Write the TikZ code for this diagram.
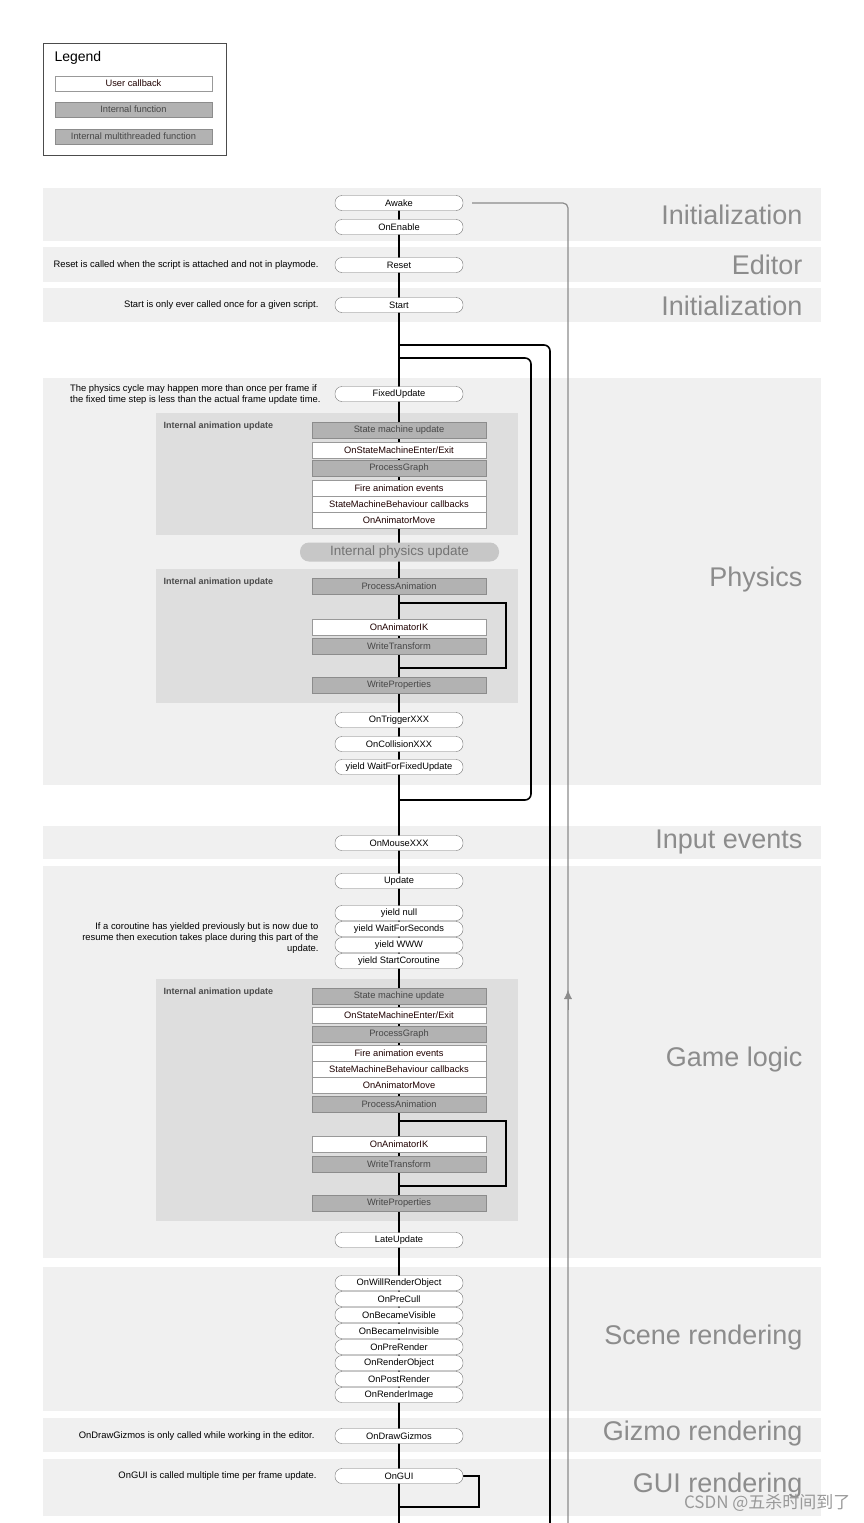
\documentclass[tikz,border=0pt]{standalone}
\usepackage{fontspec}
\usetikzlibrary{arrows.meta}
\setmainfont{Liberation Sans}
\newfontfamily\cjk{Noto Sans CJK SC}
\begin{document}
\begin{tikzpicture}[x=1pt,y=-1pt,
  band/.style={fill=black!6,draw=none},
  anim/.style={fill=black!13,draw=none},
  cb/.style={draw=black!55,fill=white,rounded corners=7pt,minimum width=128pt,minimum height=15pt,inner sep=0pt,font=\fontsize{9.3}{10}\selectfont},
  uc/.style={draw=black!40,fill=white,minimum width=174pt,minimum height=16pt,inner sep=0pt,font=\fontsize{9.3}{10}\selectfont,text=black!80!red!60!black},
  inf/.style={draw=black!45,fill=black!30,minimum width=174pt,minimum height=16pt,inner sep=0pt,font=\fontsize{9.3}{10}\selectfont,text=black!72},
  sec/.style={anchor=east,text=black!45,font=\fontsize{27}{29}\selectfont},
  note/.style={font=\fontsize{9.4}{11}\selectfont},
  ann/.style={font=\bfseries\fontsize{9}{10}\selectfont,text=black!70,anchor=north west},
  flow/.style={draw=black,line width=1.3pt},
  loop/.style={draw=black,line width=1.6pt,rounded corners=6pt}]
\useasboundingbox (0,0) rectangle (864,1523);
% legend
\draw[black!70] (43,43) rectangle (226,155);
\node[anchor=west,font=\fontsize{14}{15}\selectfont] (leg) at (51,58) {Legend};
\node[uc,minimum width=157pt,minimum height=15pt] (l1) at (133.5,83.5) {User callback};
\node[inf,minimum width=157pt,minimum height=15pt] (l2) at (133.5,109.5) {Internal function};
\node[inf,minimum width=157pt,minimum height=15pt] (l3) at (133.5,136.5) {Internal multithreaded function};
% bands
\fill[band] (43,188) rectangle (821,241);
\fill[band] (43,247) rectangle (821,282);
\fill[band] (43,288) rectangle (821,322);
\fill[band] (43,378) rectangle (821,785);
\fill[band] (43,826) rectangle (821,859);
\fill[band] (43,866) rectangle (821,1258);
\fill[band] (43,1267) rectangle (821,1411);
\fill[band] (43,1418) rectangle (821,1452);
\fill[band] (43,1459) rectangle (821,1516);
\fill[anim] (156,413) rectangle (518,535);
\fill[anim] (156,569) rectangle (518,703);
\fill[anim] (156,979) rectangle (518,1221);
\node[sec] (s1) at (806,215) {Initialization};
\node[sec] (s2) at (806,265) {Editor};
\node[sec] (s3) at (806,306) {Initialization};
\node[sec] (s4) at (806,580) {Physics};
\node[sec] (s5) at (806,842) {Input events};
\node[sec] (s6) at (806,1060) {Game logic};
\node[sec] (s7) at (806,1338) {Scene rendering};
\node[sec] (s8) at (806,1434) {Gizmo rendering};
\node[sec] (s9) at (806,1485) {GUI rendering};
\node[ann] (a1) at (160,418) {Internal animation update};
\node[ann] (a2) at (160,574) {Internal animation update};
\node[ann] (a3) at (160,984) {Internal animation update};
% notes
\node[note,anchor=east] (n1) at (322,265) {Reset is called when the script is attached and not in playmode.};
\node[note,anchor=east] (n2) at (322,305) {Start is only ever called once for a given script.};
\node[note,anchor=east,align=left] (n3) at (324,395) {The physics cycle may happen more than once per frame if\\the fixed time step is less than the actual frame update time.};
\node[note,anchor=east,align=right] (n4) at (322,938) {If a coroutine has yielded previously but is now due to\\resume then execution takes place during this part of the\\update.};
\node[note,anchor=east] (n5) at (318,1436) {OnDrawGizmos is only called while working in the editor.};
\node[note,anchor=east] (n6) at (320,1476) {OnGUI is called multiple time per frame update.};
% loops & lines (behind nodes)
\draw[black!45,line width=1.2pt,rounded corners=5pt] (472,203) -- (568,203) -- (568,1523);
\draw[black!45,-{Latex[length=9pt,width=8pt]}] (568,1010) -- (568,990);
\draw[loop] (399,345) -- (550,345) -- (550,1523);
\draw[loop] (399,800) -- (531,800) -- (531,358) -- (399,358);
\draw[flow] (399,203) -- (399,1523);
\draw[line width=1.6pt] (399,603) -- (506,603) -- (506,668) -- (399,668);
\draw[line width=1.6pt] (399,1121) -- (506,1121) -- (506,1186) -- (399,1186);
\draw[line width=1.6pt] (463,1476) -- (479,1476) -- (479,1507) -- (399,1507);
% callbacks
\node[cb] (awake) at (399,203) {Awake};
\node[cb] (onenable) at (399,227) {OnEnable};
\node[cb] (reset) at (399,265) {Reset};
\node[cb] (start) at (399,305) {Start};
\node[cb] (fixed) at (399,394) {FixedUpdate};
\node[inf] (p1) at (399,430) {State machine update};
\node[uc] (p2) at (399,450) {OnStateMachineEnter/Exit};
\node[inf] (p3) at (399,468) {ProcessGraph};
\node[uc] (p4) at (399,488) {Fire animation events};
\node[uc] (p5) at (399,504) {StateMachineBehaviour callbacks};
\node[uc] (p6) at (399,520) {OnAnimatorMove};
\node[fill=black!22,rounded corners=9pt,minimum width=199pt,minimum height=19pt,inner sep=0pt,text=black!55,font=\fontsize{13.5}{14}\selectfont] (phys) at (399.5,552) {Internal physics update};
\node[inf] (q1) at (399,586) {ProcessAnimation};
\node[uc] (q2) at (399,627) {OnAnimatorIK};
\node[inf] (q3) at (399,646) {WriteTransform};
\node[inf] (q4) at (399,685) {WriteProperties};
\node[cb] (trig) at (399,720) {OnTriggerXXX};
\node[cb] (coll) at (399,744) {OnCollisionXXX};
\node[cb] (wffu) at (399,767) {yield WaitForFixedUpdate};
\node[cb] (mouse) at (399,843) {OnMouseXXX};
\node[cb] (update) at (399,881) {Update};
\node[cb] (y1) at (399,913) {yield null};
\node[cb] (y2) at (399,929) {yield WaitForSeconds};
\node[cb] (y3) at (399,945) {yield WWW};
\node[cb] (y4) at (399,961) {yield StartCoroutine};
\node[inf] (g1) at (399,996) {State machine update};
\node[uc] (g2) at (399,1015) {OnStateMachineEnter/Exit};
\node[inf] (g3) at (399,1034) {ProcessGraph};
\node[uc] (g4) at (399,1053) {Fire animation events};
\node[uc] (g5) at (399,1069) {StateMachineBehaviour callbacks};
\node[uc] (g6) at (399,1085) {OnAnimatorMove};
\node[inf] (g7) at (399,1104) {ProcessAnimation};
\node[uc] (g8) at (399,1144) {OnAnimatorIK};
\node[inf] (g9) at (399,1164) {WriteTransform};
\node[inf] (g10) at (399,1203) {WriteProperties};
\node[cb] (late) at (399,1240) {LateUpdate};
\node[cb] (r1) at (399,1283) {OnWillRenderObject};
\node[cb] (r2) at (399,1299) {OnPreCull};
\node[cb] (r3) at (399,1315) {OnBecameVisible};
\node[cb] (r4) at (399,1331) {OnBecameInvisible};
\node[cb] (r5) at (399,1347) {OnPreRender};
\node[cb] (r6) at (399,1363) {OnRenderObject};
\node[cb] (r7) at (399,1379) {OnPostRender};
\node[cb] (r8) at (399,1395) {OnRenderImage};
\node[cb] (giz) at (399,1436) {OnDrawGizmos};
\node[cb] (gui) at (399,1476) {OnGUI};
\node[anchor=east,text=black!40,font=\cjk\fontsize{17}{18}\selectfont] (wm) at (854,1503) {CSDN @五杀时间到了};
\end{tikzpicture}
\end{document}
